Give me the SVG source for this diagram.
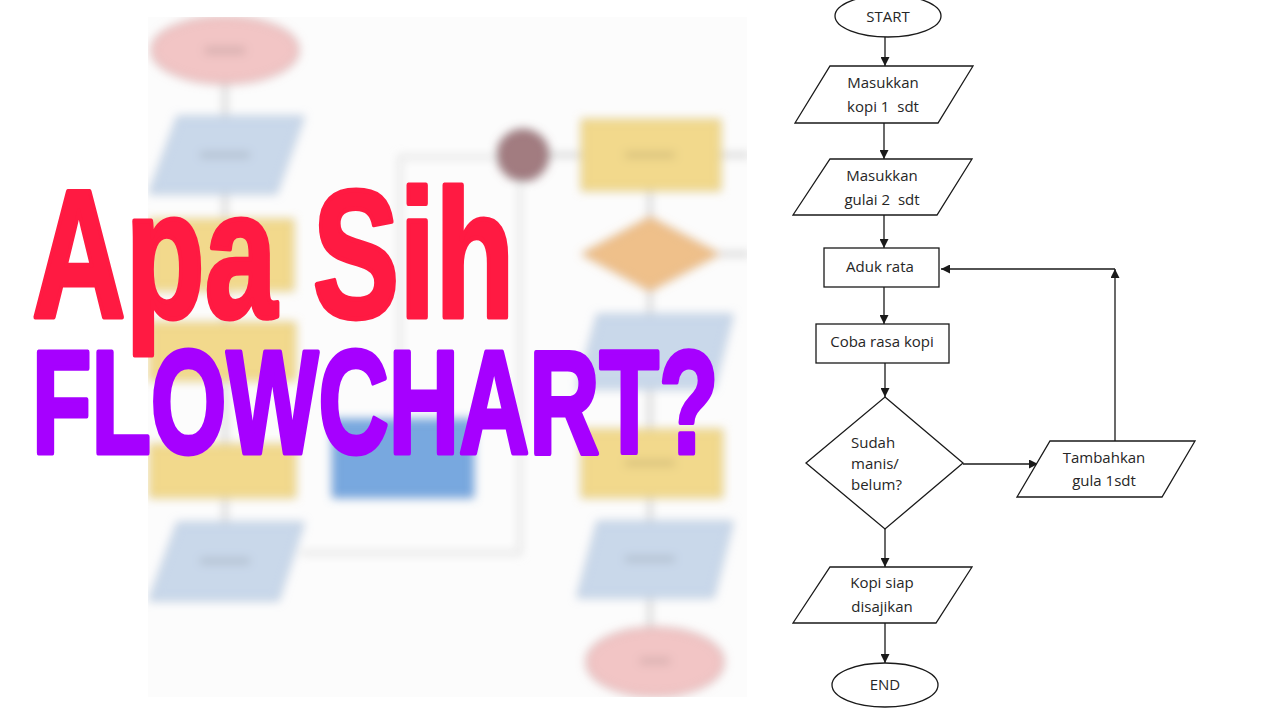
<svg xmlns="http://www.w3.org/2000/svg" width="1280" height="720" viewBox="0 0 1280 720">
<defs>
  <filter id="blur" x="-10%" y="-10%" width="120%" height="120%">
    <feGaussianBlur stdDeviation="5"/>
  </filter>
  <clipPath id="bgclip"><rect x="148" y="17" width="599" height="680"/></clipPath>
  <marker id="arr" viewBox="0 0 10 10" refX="10" refY="5" markerWidth="9" markerHeight="9" markerUnits="userSpaceOnUse" orient="auto">
    <path d="M0,0 L10,5 L0,10 z" fill="#1a1a1a"/>
  </marker>
  <style>
    .shape { fill: #ffffff; stroke: #1a1a1a; stroke-width: 1.3; }
    .lbl { font-family: "Open Sans", "Liberation Sans", sans-serif; font-size: 15px; fill: #262626; text-anchor: middle; }
    .lbll { font-family: "Open Sans", "Liberation Sans", sans-serif; font-size: 15px; fill: #262626; text-anchor: start; }
    .conn { fill: none; stroke: #1a1a1a; stroke-width: 1.3; marker-end: url(#arr); }
    .title { font-family: "Liberation Sans", Arial, sans-serif; font-weight: bold; stroke-linejoin: round; }
    .bgy { fill: #f2d98c; stroke: #d8bd6c; stroke-width: 2; }
    .bgb { fill: #c9d8ea; stroke: #a8bcd6; stroke-width: 2; }
    .bgp { fill: #f2c5c5; stroke: #c99c9c; stroke-width: 2; }
    .bgl { fill: none; stroke: #9a9a9a; stroke-width: 2; }
    .bgl2 { fill: none; stroke: #d9d9d9; stroke-width: 3; }
    .smudge { fill: #000000; opacity: 0.12; }
  </style>
</defs>

<rect x="0" y="0" width="1280" height="720" fill="#ffffff"/>

<!-- blurred background flowchart -->
<g id="background" clip-path="url(#bgclip)">
  <rect x="148" y="17" width="599" height="680" fill="#fcfcfc"/>
  <g filter="url(#blur)">
    <!-- left column -->
    <line class="bgl" x1="225" y1="83" x2="225" y2="117"/>
    <line class="bgl" x1="225" y1="193" x2="225" y2="220"/>
    <line class="bgl" x1="225" y1="290" x2="225" y2="323"/>
    <line class="bgl" x1="225" y1="380" x2="225" y2="445"/>
    <line class="bgl" x1="225" y1="497" x2="225" y2="523"/>
    <ellipse class="bgp" cx="225" cy="50" rx="73" ry="33"/>
    <rect class="smudge" x="205" y="47" width="40" height="7"/>
    <polygon class="bgb" points="178,117 303,117 276,193 150,193"/>
    <rect class="smudge" x="200" y="152" width="50" height="6"/>
    <rect class="bgy" x="150" y="220" width="143" height="70"/>
    <rect class="bgy" x="150" y="323" width="145" height="57"/>
    <rect class="bgy" x="150" y="445" width="145" height="52"/>
    <polygon class="bgb" points="178,523 303,523 278,600 150,600"/>
    <rect class="smudge" x="200" y="558" width="50" height="6"/>
    <!-- middle -->
    <polyline class="bgl2" points="500,157 400,157 400,420"/>
    <polyline class="bgl2" points="300,553 520,553 520,178"/>
    <rect x="333" y="420" width="140" height="77" fill="#78a8df" stroke="#5b8ccc" stroke-width="2"/>
    <circle cx="523" cy="155" r="25" fill="#a27c80" stroke="#7a5a5e" stroke-width="2"/>
    <line class="bgl" x1="548" y1="155" x2="582" y2="155"/>
    <!-- right column -->
    <line class="bgl" x1="650" y1="190" x2="650" y2="218"/>
    <line class="bgl" x1="650" y1="290" x2="650" y2="315"/>
    <line class="bgl" x1="650" y1="388" x2="650" y2="430"/>
    <line class="bgl" x1="650" y1="497" x2="650" y2="522"/>
    <line class="bgl" x1="650" y1="597" x2="650" y2="627"/>
    <line class="bgl" x1="720" y1="155" x2="750" y2="155"/>
    <line class="bgl" x1="718" y1="254" x2="750" y2="254"/>
    <rect class="bgy" x="582" y="120" width="138" height="70"/>
    <rect class="smudge" x="625" y="152" width="50" height="6"/>
    <polygon points="650,218 718,254 650,290 583,254" fill="#efc08a" stroke="#d9a56c" stroke-width="2"/>
    <polygon class="bgb" points="598,315 732,315 713,388 578,388"/>
    <rect class="bgy" x="582" y="430" width="140" height="67"/>
    <rect class="smudge" x="625" y="460" width="50" height="6"/>
    <polygon class="bgb" points="598,522 732,522 713,597 578,597"/>
    <rect class="smudge" x="625" y="556" width="50" height="6"/>
    <ellipse class="bgp" cx="655" cy="662" rx="68" ry="34"/>
    <rect class="smudge" x="640" y="658" width="30" height="6"/>
  </g>
</g>

<!-- title -->
<g id="title">
  <text class="title" transform="matrix(0.712,0,0,1,32,317)" x="0" y="0" font-size="182" fill="#ff1a42" stroke="#ff1a42" stroke-width="5">Apa Sih</text>
  <text class="title" transform="matrix(0.662,0,0,1,32,453)" x="0" y="0" font-size="147" fill="#a600ff" stroke="#a600ff" stroke-width="5">FLOWCHART?</text>
</g>

<!-- connectors -->
<g id="connectors">
  <line class="conn" x1="885" y1="37" x2="885" y2="66"/>
  <line class="conn" x1="884" y1="123" x2="884" y2="159"/>
  <line class="conn" x1="884" y1="215" x2="884" y2="248"/>
  <line class="conn" x1="884" y1="287" x2="884" y2="324"/>
  <line class="conn" x1="885" y1="363" x2="885" y2="397"/>
  <line class="conn" x1="963" y1="464" x2="1038" y2="464"/>
  <line class="conn" x1="1115" y1="441" x2="1115" y2="269"/>
  <line class="conn" x1="1115" y1="269" x2="941" y2="269"/>
  <line class="conn" x1="885" y1="529" x2="885" y2="567"/>
  <line class="conn" x1="885" y1="623" x2="885" y2="663"/>
</g>

<!-- nodes -->
<g id="start">
  <ellipse class="shape" cx="888" cy="16" rx="53" ry="21"/>
  <text class="lbl" x="888" y="22">START</text>
</g>
<g id="masukkan-kopi">
  <polygon class="shape" points="830,66 973,66 938,123 795,123"/>
  <text class="lbl" x="883" y="88">Masukkan</text>
  <text class="lbl" x="883" y="112" xml:space="preserve">kopi 1  sdt</text>
</g>
<g id="masukkan-gula">
  <polygon class="shape" points="830,159 972,159 937,215 793,215"/>
  <text class="lbl" x="882" y="181">Masukkan</text>
  <text class="lbl" x="882" y="205" xml:space="preserve">gulai 2  sdt</text>
</g>
<g id="aduk-rata">
  <rect class="shape" x="824" y="248" width="115" height="39"/>
  <text class="lbl" x="880" y="272">Aduk rata</text>
</g>
<g id="coba-rasa">
  <rect class="shape" x="816" y="324" width="133" height="39"/>
  <text class="lbl" x="882" y="347">Coba rasa kopi</text>
</g>
<g id="decision">
  <polygon class="shape" points="885,397 963,463 885,529 806,463"/>
  <text class="lbll" x="851" y="448">Sudah</text>
  <text class="lbll" x="851" y="469">manis/</text>
  <text class="lbll" x="851" y="490">belum?</text>
</g>
<g id="tambahkan-gula">
  <polygon class="shape" points="1050,441 1195,441 1162,497 1017,497"/>
  <text class="lbl" x="1104" y="463">Tambahkan</text>
  <text class="lbl" x="1104" y="486">gula 1sdt</text>
</g>
<g id="kopi-siap">
  <polygon class="shape" points="830,567 972,567 936,623 793,623"/>
  <text class="lbl" x="882" y="588">Kopi siap</text>
  <text class="lbl" x="882" y="612">disajikan</text>
</g>
<g id="end">
  <ellipse class="shape" cx="885" cy="685" rx="53" ry="22"/>
  <text class="lbl" x="885" y="690">END</text>
</g>
</svg>
